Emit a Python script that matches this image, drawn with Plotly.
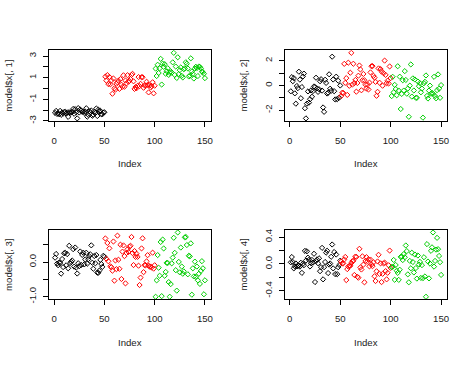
import plotly.graph_objects as go

# ---------------- data (scores) ----------------
species_names = ["setosa", "versicolor", "virginica"]
group_size = 50

pc1 = [-2.257, -2.074, -2.356, -2.292, -2.382, -2.069, -2.436, -2.225, -2.327, -2.177,
       -2.159, -2.318, -2.211, -2.624, -2.191, -2.255, -2.200, -2.183, -1.892, -2.336,
       -1.908, -2.200, -2.765, -1.813, -2.220, -1.945, -2.044, -2.161, -2.132, -2.258,
       -2.133, -1.826, -2.606, -2.438, -2.103, -2.200, -2.038, -2.519, -2.422, -2.163,
       -2.279, -1.852, -2.545, -1.958, -2.130, -2.063, -2.377, -2.386, -2.222, -2.197,
       1.098, 0.729, 1.237, 0.406, 1.072, 0.387, 0.744, -0.486, 0.925, 0.011,
       -0.110, 0.439, 0.560, 0.717, -0.033, 0.872, 0.349, 0.158, 1.221, 0.164,
       0.735, 0.475, 1.230, 0.631, 0.700, 0.871, 1.252, 1.354, 0.663, -0.040,
       0.130, 0.023, 0.241, 1.058, 0.223, 0.428, 1.045, 1.041, 0.069, 0.282,
       0.278, 0.622, 0.335, -0.361, 0.288, 0.091, 0.227, 0.574, -0.446, 0.256,
       1.838, 1.154, 2.198, 1.435, 1.862, 2.743, 0.366, 2.295, 2.000, 2.252,
       1.360, 1.597, 1.878, 1.256, 1.463, 1.585, 1.467, 2.418, 3.300, 1.259,
       2.031, 0.975, 2.888, 1.329, 1.695, 1.948, 1.171, 1.018, 1.782, 1.857,
       2.428, 2.297, 1.856, 1.110, 1.198, 2.790, 1.571, 1.342, 0.922, 1.846,
       2.008, 1.895, 1.154, 2.034, 1.992, 1.864, 1.559, 1.516, 1.368, 0.957]

pc2 = [-0.478, 0.672, 0.341, 0.595, -0.645, -1.484, -0.048, -0.222, 1.112, 0.468,
       -1.040, -0.133, 0.726, 0.958, -1.854, -2.677, -1.479, -0.487, -1.400, -1.124,
       -0.408, -0.921, -0.457, -0.085, -0.137, 0.624, -0.241, -0.526, -0.312, 0.337,
       0.503, -0.422, -1.788, -2.144, 0.459, 0.205, -0.659, -0.590, 0.901, -0.268,
       -0.440, 2.330, 0.478, -0.471, -1.138, 0.709, -1.117, 0.385, -0.995, -0.009,
       -0.860, -0.593, -0.614, 1.749, 0.208, 0.591, -0.771, 1.846, -0.032, 1.030,
       2.645, 0.063, 1.759, 0.186, 0.438, -0.508, 0.196, 0.789, 1.617, 1.298,
       -0.395, 0.416, 0.930, 0.415, 0.063, -0.250, 0.077, -0.330, 0.225, 1.055,
       1.557, 1.567, 0.775, 0.632, 0.287, -0.843, -0.521, 1.378, 0.219, 1.325,
       1.116, -0.025, 0.985, 2.013, 0.853, 0.181, 0.384, 0.154, 1.539, 0.597,
       -0.868, 0.697, -0.560, 0.047, -0.294, -0.798, 1.556, -0.419, 0.709, -1.915,
       -0.691, 0.420, -0.418, 1.158, 0.441, -0.674, -0.255, -2.548, -0.018, 1.701,
       -0.908, 0.570, -0.412, 0.480, -1.011, -1.005, 0.315, -0.064, 0.187, -0.561,
       -0.258, -2.618, 0.178, 0.292, 0.809, -0.854, -1.065, -0.421, -0.017, -0.674,
       -0.612, -0.687, 0.697, -0.865, -1.046, -0.386, 0.894, -0.268, -1.008, 0.024]

pc3 = [0.127, 0.234, -0.044, -0.091, -0.016, -0.027, -0.334, 0.088, -0.145, 0.253,
       0.268, -0.094, 0.230, -0.180, 0.471, -0.030, 0.005, 0.044, 0.373, -0.132,
       0.420, -0.159, -0.331, -0.034, -0.118, 0.305, -0.086, 0.206, 0.270, -0.068,
       0.075, 0.270, -0.047, 0.083, 0.170, 0.225, 0.483, -0.019, -0.193, 0.175,
       -0.035, 0.204, -0.305, -0.309, -0.248, 0.064, -0.057, -0.139, 0.181, 0.153,
       0.682, 0.094, 0.552, 0.023, 0.397, -0.124, -0.149, -0.249, 0.594, -0.537,
       0.047, -0.204, 0.763, 0.068, -0.194, 0.502, -0.489, 0.301, 0.481, 0.172,
       -0.615, 0.264, 0.367, 0.291, 0.445, 0.471, 0.725, 0.260, -0.086, 0.318,
       0.150, 0.241, 0.151, -0.105, -0.663, -0.449, 0.395, 0.686, -0.291, -0.089,
       -0.094, 0.020, 0.199, -0.106, -0.130, -0.129, -0.156, 0.271, -0.190, -0.092,
       -1.002, -0.528, 0.202, -0.163, -0.394, 0.580, -0.984, 0.650, 0.393, -0.396,
       -0.284, -0.023, -0.026, -0.578, -1.001, -0.636, -0.037, 0.128, 0.701, 0.267,
       -0.234, -0.825, 0.855, 0.005, -0.297, 0.419, -0.130, -0.337, -0.270, 0.713,
       0.725, 0.492, -0.353, 0.183, 0.164, 0.541, -0.943, -0.180, -0.415, 0.013,
       -0.427, -0.130, -0.528, -0.337, -0.630, -0.255, 0.026, -0.180, -0.930, -0.527]

pc4 = [0.024, 0.103, 0.028, -0.066, -0.036, 0.007, -0.037, -0.025, -0.027, -0.040,
       0.017, -0.133, 0.002, -0.019, 0.194, 0.050, 0.188, 0.093, 0.061, -0.038,
       0.011, 0.059, 0.020, 0.151, -0.269, 0.043, 0.067, 0.010, 0.084, -0.108,
       -0.048, 0.239, -0.229, -0.048, 0.029, 0.168, 0.196, -0.136, -0.010, 0.007,
       0.107, 0.289, -0.066, 0.177, -0.151, 0.140, -0.152, -0.049, -0.015, 0.049,
       0.035, 0.005, 0.009, 0.066, 0.104, -0.240, -0.077, -0.040, -0.030, -0.028,
       0.014, 0.040, 0.046, -0.164, 0.109, 0.105, -0.191, -0.205, 0.225, -0.052,
       -0.083, 0.113, -0.010, -0.273, 0.043, 0.101, 0.040, 0.067, -0.036, 0.065,
       -0.009, -0.033, 0.024, -0.183, -0.254, -0.109, 0.037, 0.136, -0.147, 0.009,
       -0.270, -0.147, 0.007, 0.020, -0.107, -0.229, -0.132, -0.020, 0.199, -0.059,
       -0.049, -0.040, 0.059, -0.235, -0.016, -0.101, -0.133, -0.237, -0.086, 0.105,
       0.108, 0.058, 0.146, 0.099, 0.275, 0.191, -0.155, -0.273, 0.045, -0.065,
       0.167, 0.028, -0.127, 0.140, -0.061, -0.218, 0.125, -0.009, 0.031, -0.208,
       -0.018, -0.211, 0.100, -0.186, -0.488, 0.295, 0.036, -0.215, 0.005, 0.195,
       0.247, 0.468, -0.040, 0.045, 0.213, 0.388, 0.220, 0.119, 0.026, -0.163]

y_titles = ["model$x[, 1]", "model$x[, 2]", "model$x[, 3]", "model$x[, 4]"]
x_title = "Index"
x_tickvals = [0, 50, 100, 150]
y_tickvals = [[-3, -2, -1, 0, 1, 2, 3],
              [-2, -1, 0, 1, 2],
              [-1.0, -0.5, 0.0, 0.5],
              [-0.4, -0.2, 0.0, 0.2, 0.4]]
y_ticktext = [["-3", "", "-1", "", "1", "", "3"],
              ["-2", "", "0", "", "2"],
              ["-1.0", "", "0.0", ""],
              ["-0.4", "", "0.0", "", "0.4"]]

# ---------------- styling ----------------
W, H = 474, 365
colors = ["#000000", "#FF0000", "#00CD00"]
FONT = "Liberation Sans, Arial, sans-serif"
FS = 9.6
TXT = "#1a1a1a"
# plot boxes in pixels: (left, right, top, bottom)
boxes = [(49.3, 211.8, 49.0, 121.0), (286.0, 449.0, 49.0, 121.0),
         (49.3, 211.8, 231.7, 302.3), (286.0, 449.0, 231.7, 302.3)]

series = [pc1, pc2, pc3, pc4]
index = list(range(1, len(pc1) + 1))

fig = go.Figure()
annotations = []
for k, ys in enumerate(series):
    ax = "" if k == 0 else str(k + 1)
    for g, name in enumerate(species_names):
        sl = slice(g * group_size, (g + 1) * group_size)
        fig.add_trace(go.Scatter(
            x=index[sl], y=ys[sl], mode="markers", name=name, showlegend=False,
            xaxis="x" + ax, yaxis="y" + ax,
            marker=dict(symbol="diamond-open", size=4.0, color=colors[g],
                        line=dict(width=1, color=colors[g])),
            hoverinfo="x+y"))
    l, r, t, b = boxes[k]
    n = len(ys)
    xpad = (n - 1) * 0.04
    ymin, ymax = min(ys), max(ys)
    ypad = (ymax - ymin) * 0.04
    common = dict(showline=True, mirror=True, linecolor="black", linewidth=1,
                  ticks="outside", ticklen=5, tickwidth=1, tickcolor="black",
                  showgrid=False, zeroline=False,
                  tickfont=dict(family=FONT, size=FS, color=TXT))
    fig.layout["xaxis" + ax] = dict(
        domain=[l / W, r / W], anchor="y" + ax,
        range=[1 - xpad, n + xpad], tickmode="array", tickvals=x_tickvals,
        ticktext=[str(v) for v in x_tickvals], ticklabelstandoff=5, **common)
    fig.layout["yaxis" + ax] = dict(
        domain=[1 - b / H, 1 - t / H], anchor="x" + ax,
        range=[ymin - ypad, ymax + ypad], tickmode="array",
        tickvals=y_tickvals[k], ticktext=y_ticktext[k], tickangle=-90,
        ticklabelstandoff=3, **common)
    annotations.append(dict(
        text=x_title, xref="paper", yref="paper", x=(l + r) / 2 / W,
        y=1 - (b + 43.5) / H, xanchor="center", yanchor="middle", showarrow=False,
        font=dict(family=FONT, size=FS, color=TXT)))
    annotations.append(dict(
        text=y_titles[k], xref="paper", yref="paper", x=(l - 41) / W,
        y=1 - (t + b) / 2 / H, xanchor="center", yanchor="middle", showarrow=False,
        textangle=-90, font=dict(family=FONT, size=FS, color=TXT)))

fig.update_layout(width=W, height=H, margin=dict(l=0, r=0, t=0, b=0),
                  paper_bgcolor="white", plot_bgcolor="white",
                  annotations=annotations, showlegend=False)

fig.write_html("out.html", config={"displayModeBar": False},
               post_script="document.body.style.margin='0';"
                           "document.body.style.overflow='hidden';")
